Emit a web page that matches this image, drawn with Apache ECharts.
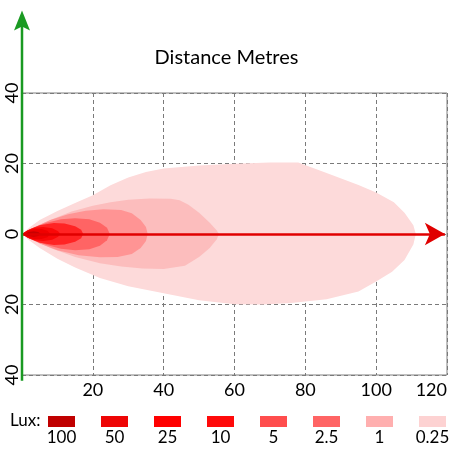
<!DOCTYPE html>
<html>
<head>
<meta charset="utf-8">
<script src="https://cdn.jsdelivr.net/npm/echarts@6/dist/echarts.min.js"></script>
<style>
  html, body { margin: 0; padding: 0; background: #fff; }
  #chart { width: 453px; height: 453px; }
</style>
</head>
<body>
<div id="chart"></div>
<script>
var xTicks = [0, 20, 40, 60, 80, 100, 120];
var yTicks = [-40, -20, 0, 20, 40];
var luxLabels = ['100', '50', '25', '10', '5', '2.5', '1', '0.25'];
var luxColors = ['#c00000', '#ee0505', '#ff0000', '#ff0a0a', '#ff4d4d', '#ff6464', '#ffafaf', '#fdd2d2'];
var fillColors = ['#c80000', '#f00000', '#fa0808', '#ff2424', '#ff6464', '#ff9494', '#fcbdbd', '#fddada'];

// isolux outlines [distance m, offset m], going round each shape
var lux100 = [[0.8, 0], [1.8, 0.6], [3.3, 0.8], [4.6, 0.55], [5.3, 0], [4.6, -0.55], [3.3, -0.8], [1.8, -0.6]];
var lux50 = [[0, 0], [1.5, 0.9], [3.5, 1.4], [5.5, 1.4], [7.2, 0.9], [8, 0], [7.2, -0.9], [5.5, -1.4], [3.5, -1.4], [1.5, -0.9]];
var lux25 = [[0, 0], [1.5, 1], [3.5, 1.8], [6, 2.0], [8.5, 1.6], [10.2, 0.8], [10.8, 0],
             [10.2, -0.8], [8.5, -1.6], [6, -2.0], [3.5, -1.8], [1.5, -1]];
var lux10 = [[0, 0], [2, 1.3], [5, 2.5], [9, 3.1], [12, 3], [15, 2.2], [16.7, 1.2], [17.3, 0],
             [16.7, -1.2], [15, -2.2], [12, -3], [9, -3.1], [5, -2.5], [2, -1.3]];
var lux5 = [[0, 0], [3, 1.6], [7, 3.2], [11, 4.2], [15, 4.5], [19, 4.2], [22, 3.2], [24, 1.8], [24.8, 0],
            [24, -1.8], [22, -3.3], [19, -4.3], [15, -4.6], [11, -4.2], [7, -3.1], [3, -1.5]];
var lux2p5 = [[0, 0], [3, 1.7], [8, 4], [13, 5.6], [18, 6.6], [23, 7], [28, 6.8], [31, 5.9], [33.5, 4], [35, 2], [35.5, 0],
              [35, -2], [33.5, -4], [31, -5.7], [27, -6.5], [22, -6.6], [16, -6], [10, -4.6], [5, -2.7], [2, -1.1]];
var lux1 = [[0, 0], [3, 1.6], [8, 4], [14, 6.4], [20, 8], [25, 9], [30, 9.7], [36, 10.1], [42, 10], [44.5, 9.6],
            [47, 8.3], [50, 6], [53, 3.2], [55, 1], [55.6, 0],
            [55, -1.5], [53, -4], [50, -6.5], [46, -9], [40, -9.9], [34, -9.8], [28, -9.2], [22, -8.3],
            [15, -6.5], [8, -4], [3, -1.6]];
var lux0p25 = [[0, 0], [2, 1.8], [5, 4], [10, 6.5], [15, 8.8], [20, 11], [25, 13.8], [30, 16], [35, 17.6], [40, 18.6],
               [50, 19.4], [60, 19.9], [70, 20.3], [78, 20.3], [86, 17.3], [95, 13.9], [100, 11.8], [105, 9],
               [108, 6], [110.5, 2.5], [111.2, 0],
               [110.5, -3], [108, -7.4], [104.5, -10.7], [100, -13.5], [95, -16.3], [86, -18.5], [76, -19.6],
               [68, -20], [60, -19.9], [50, -18.8], [40, -16.8], [30, -14.8], [22, -12.5], [15, -9.5], [10, -7],
               [5, -4], [2, -1.8]];
var contours = [lux100, lux50, lux25, lux10, lux5, lux2p5, lux1, lux0p25];

// axis arrows (distance axis along y = 0, offset axis along x = 0)
var distanceArrow = [[0, 0], [119.4, 0]];
var offsetArrow = [[0, -41.6], [0, 63.4]];

var FONT = 'Lato, "Open Sans", sans-serif';
var GREEN = '#1a9a22';
var chart = echarts.init(document.getElementById('chart'));

function contourSeries(i) {
  var pts = contours[i];
  return {
    type: 'custom',
    name: luxLabels[i],
    silent: true,
    animation: false,
    data: pts,
    encode: { x: 0, y: 1 },
    renderItem: function (params, api) {
      if (params.dataIndex !== 0) return null;
      return {
        type: 'polygon',
        shape: { points: pts.map(function (p) { return api.coord(p); }) },
        style: { fill: fillColors[i], stroke: null }
      };
    }
  };
}

var series = [];
for (var i = contours.length - 1; i >= 0; i--) series.push(contourSeries(i));

series[series.length - 1].markLine = {
  silent: true,
  animation: false,
  z: 10,
  label: { show: false },
  emphasis: { disabled: true },
  symbol: ['none', 'arrow'],
  symbolSize: [17, 20],
  lineStyle: { color: '#e00000', width: 2.5, type: 'solid' },
  data: [[{ coord: distanceArrow[0] }, { coord: distanceArrow[1] }]]
};

// legend: boxes with the lux value under each
var graphics = [{
  type: 'text', left: 10, top: 412,
  style: { text: 'Lux:', font: '17px ' + FONT, fill: '#000' }
}];
luxLabels.forEach(function (lab, k) {
  var x0 = 48 + k * 53;
  graphics.push({
    type: 'rect', shape: { x: x0, y: 416, width: 27, height: 11 },
    style: { fill: luxColors[k] }
  });
  graphics.push({
    type: 'text', x: x0 + 13.5, y: 429,
    style: { text: lab, font: '17px ' + FONT, fill: '#000', align: 'center', verticalAlign: 'top' }
  });
});

chart.setOption({
  animation: false,
  title: {
    text: 'Distance Metres',
    left: 'center',
    top: 43,
    textStyle: { fontFamily: FONT, fontSize: 20, fontWeight: 'normal', color: '#000' }
  },
  grid: {
    left: 22, right: 6, top: 93, bottom: 78,
    show: true, borderColor: '#808080', borderWidth: 1,
    outerBoundsMode: 'none'
  },
  xAxis: {
    type: 'value',
    min: xTicks[0], max: xTicks[xTicks.length - 1], interval: 20,
    axisLine: { show: false },
    axisTick: { show: false },
    axisLabel: {
      showMinLabel: false, alignMaxLabel: 'right', margin: 6,
      fontFamily: FONT, fontSize: 18, color: '#000'
    },
    splitLine: { show: true, lineStyle: { color: '#7a7a7a', type: [4, 3], width: 1 } }
  },
  yAxis: {
    type: 'value',
    min: yTicks[0], max: yTicks[yTicks.length - 1], interval: 20,
    axisLine: { show: false },
    axisTick: { show: false },
    axisLabel: {
      rotate: 90, margin: 1,
      fontFamily: FONT, fontSize: 18, color: '#000',
      formatter: function (v) { return String(Math.abs(v)); }
    },
    splitLine: { show: true, lineStyle: { color: '#7a7a7a', type: [4, 3], width: 1 } }
  },
  graphic: graphics,
  series: series
});

// green offset axis with arrow head, placed through the grid's own scale
var pBot = chart.convertToPixel({ gridIndex: 0 }, offsetArrow[0]);
var pTop = chart.convertToPixel({ gridIndex: 0 }, offsetArrow[1]);
graphics.push({
  type: 'line', z: 20,
  shape: { x1: pBot[0], y1: pBot[1], x2: pTop[0], y2: pTop[1] + 12 },
  style: { stroke: GREEN, lineWidth: 2.5 }
});
graphics.push({
  type: 'polygon', z: 20,
  shape: { points: [[pTop[0], pTop[1]], [pTop[0] + 8, pTop[1] + 20], [pTop[0], pTop[1] + 16], [pTop[0] - 8, pTop[1] + 20]] },
  style: { fill: GREEN }
});
chart.setOption({ graphic: graphics });
</script>
</body>
</html>
